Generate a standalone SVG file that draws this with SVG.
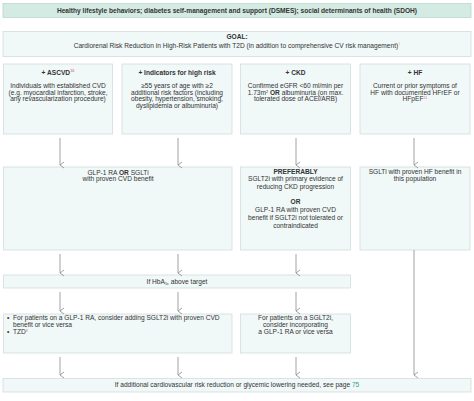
<svg xmlns="http://www.w3.org/2000/svg" width="474" height="401" viewBox="0 0 474 401">
<style>
text{font-family:"Liberation Sans",Arial,sans-serif;font-size:6.6px;fill:#333333;text-anchor:middle}
.b{font-weight:bold}
.l{text-anchor:start}
.box{fill:#f0f8f8;stroke:#d3dddd;stroke-width:0.8}
.ban{fill:#d3ebe2;stroke:#bcd8ce;stroke-width:0.8}
.sup{font-size:3.8px;fill:#e07c7c}
.con line{stroke:#8a8a8a;stroke-width:0.8;fill:none}
</style>
<defs>
<marker id="ah" viewBox="0 0 8 8" refX="4" refY="7" markerWidth="8" markerHeight="8" markerUnits="userSpaceOnUse" orient="auto-start-reverse">
<path d="M1,3 L4,7 L7,3" fill="none" stroke="#8a8a8a" stroke-width="0.8"/>
</marker>
</defs>
<rect width="474" height="401" fill="#ffffff"/>

<g id="banner">
<rect class="ban" x="3" y="3.5" width="468" height="14"/>
<text class="b" x="237" y="12.9">Healthy lifestyle behaviors; diabetes self-management and support (DSMES); social determinants of health (SDOH)</text>
</g>

<g id="goal">
<rect class="box" x="3" y="31.5" width="468" height="25"/>
<text class="b" x="237" y="39">GOAL:</text>
<text x="237" y="47.5">Cardiorenal Risk Reduction in High-Risk Patients with T2D (in addition to comprehensive CV risk management)<tspan class="sup" dy="-2.5" style="fill:#f0a860">1</tspan></text>
</g>

<g id="ascvd">
<rect class="box" x="3.5" y="64" width="109" height="70"/>
<text class="b" x="58" y="74.5">+ ASCVD<tspan class="sup" dy="-2.5">10</tspan></text>
<text x="58" y="88">Individuals with established CVD</text>
<text x="58" y="94.6">(e.g. myocardial infarction, stroke,</text>
<text x="58" y="101.2">any revascularization procedure)</text>
</g>

<g id="highrisk">
<rect class="box" x="122" y="64" width="110" height="70"/>
<text class="b" x="177" y="74.5">+ Indicators for high risk</text>
<text x="177" y="88">≥55 years of age with ≥2</text>
<text x="177" y="94.6">additional risk factors (including</text>
<text x="177" y="101.2">obesity, hypertension, smoking,</text>
<text x="177" y="107.8">dyslipidemia or albuminuria)</text>
</g>

<g id="ckd">
<rect class="box" x="240.5" y="64" width="110" height="70"/>
<text class="b" x="295.5" y="74.5">+ CKD</text>
<text x="295.5" y="88">Confirmed eGFR &lt;60 ml/min per</text>
<text x="295.5" y="94.6">1.73m<tspan dy="-2" font-size="3.8">2</tspan><tspan dy="2" class="b"> OR</tspan> albuminuria (on max.</text>
<text x="295.5" y="101.2">tolerated dose of ACEi/ARB)</text>
</g>

<g id="hf">
<rect class="box" x="360" y="64" width="110" height="70"/>
<text class="b" x="415" y="74.5">+ HF</text>
<text x="415" y="88">Current or prior symptoms of</text>
<text x="415" y="94.6">HF with documented HFrEF or</text>
<text x="415" y="101.2">HFpEF<tspan class="sup" dy="-2.5">11</tspan></text>
</g>

<g id="glp1-sglt">
<rect class="box" x="3.5" y="167" width="228.5" height="83"/>
<text x="118" y="174.5">GLP-1 RA <tspan class="b">OR</tspan> SGLTi</text>
<text x="118" y="181.1">with proven CVD benefit</text>
</g>

<g id="preferably">
<rect class="box" x="240.5" y="167" width="110" height="83"/>
<text class="b" x="295.5" y="173.5">PREFERABLY</text>
<text x="295.5" y="181">SGLT2i with primary evidence of</text>
<text x="295.5" y="188.5">reducing CKD progression</text>
<text class="b" x="295.5" y="203.5">OR</text>
<text x="295.5" y="211.5">GLP-1 RA with proven CVD</text>
<text x="295.5" y="219.5">benefit if SGLT2i not tolerated or</text>
<text x="295.5" y="227.5">contraindicated</text>
</g>

<g id="sglt-hf">
<rect class="box" x="360" y="167" width="110" height="83"/>
<text x="415" y="173.5">SGLTi with proven HF benefit in</text>
<text x="415" y="180.5">this population</text>
</g>

<g id="hba1c">
<rect class="box" x="3.5" y="275" width="347" height="13"/>
<text x="177" y="283.5">If HbA<tspan dy="1.5" font-size="3.8">1c</tspan><tspan dy="-1.5"> above target</tspan></text>
</g>

<g id="add-sglt2">
<rect class="box" x="3.5" y="314" width="228.5" height="39"/>
<text class="l" x="7" y="319.5">•</text>
<text class="l" x="13" y="319.5">For patients on a GLP-1 RA, consider adding SGLT2i with proven CVD</text>
<text class="l" x="13" y="326.5">benefit or vice versa</text>
<text class="l" x="7" y="334">•</text>
<text class="l" x="13" y="334">TZD<tspan class="sup" dy="-2.5">8</tspan></text>
</g>

<g id="add-glp1">
<rect class="box" x="240.5" y="314" width="110" height="39"/>
<text x="295.5" y="319.5">For patients on a SGLT2i,</text>
<text x="295.5" y="326.8">consider incorporating</text>
<text x="295.5" y="334.3">a GLP-1 RA or vice versa</text>
</g>

<g id="final">
<rect class="box" x="3" y="378.5" width="468" height="13.5"/>
<text x="237" y="387">If additional cardiovascular risk reduction or glycemic lowering needed, see page <tspan style="fill:#2fa28a">75</tspan></text>
</g>

<g class="con" id="connectors">
<line x1="60" y1="138" x2="60" y2="165" marker-end="url(#ah)"/>
<line x1="178" y1="138" x2="178" y2="165" marker-end="url(#ah)"/>
<line x1="296" y1="138" x2="296" y2="165" marker-end="url(#ah)"/>
<line x1="414" y1="138" x2="414" y2="165" marker-end="url(#ah)"/>
<line x1="60" y1="254" x2="60" y2="273" marker-end="url(#ah)"/>
<line x1="178" y1="254" x2="178" y2="273" marker-end="url(#ah)"/>
<line x1="296" y1="254" x2="296" y2="273" marker-end="url(#ah)"/>
<line x1="60" y1="292" x2="60" y2="311" marker-end="url(#ah)"/>
<line x1="178" y1="292" x2="178" y2="311" marker-end="url(#ah)"/>
<line x1="296" y1="292" x2="296" y2="311" marker-end="url(#ah)"/>
<line x1="60" y1="357" x2="60" y2="375" marker-end="url(#ah)"/>
<line x1="178" y1="357" x2="178" y2="375" marker-end="url(#ah)"/>
<line x1="296" y1="357" x2="296" y2="375" marker-end="url(#ah)"/>
<line x1="414" y1="250" x2="414" y2="375" marker-end="url(#ah)"/>
</g>
</svg>
